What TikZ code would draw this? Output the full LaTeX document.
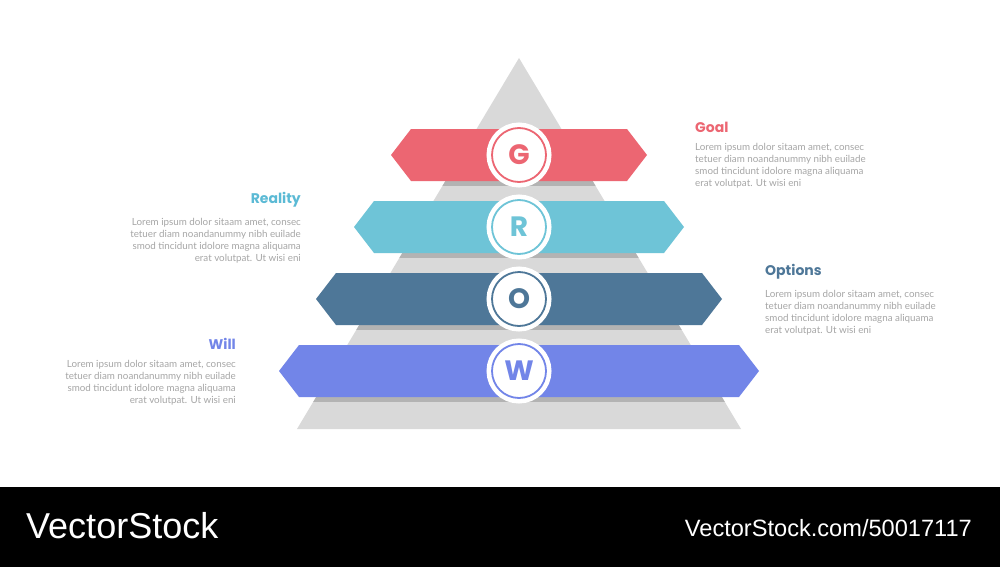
\documentclass[tikz,border=0pt]{standalone}
\usepackage{fontspec}
\setmainfont{Lato}
\newfontfamily\headfont{Poppins}
\newfontfamily\logofont{Liberation Sans}
\usetikzlibrary{positioning}

\definecolor{goalc}{HTML}{EC6672}
\definecolor{realc}{HTML}{6EC4D7}
\definecolor{realt}{HTML}{5BBAD5}
\definecolor{optc}{HTML}{4E7798}
\definecolor{willc}{HTML}{7285E8}
\definecolor{pyrgray}{HTML}{D9D9D9}
\definecolor{pyrdark}{HTML}{B3B3B3}
\definecolor{bodygray}{HTML}{A6A6A6}

\newcommand{\loremtext}{Lorem ipsum dolor sitaam amet, consec\\tetuer diam noandanummy nibh euilade\\smod tincidunt idolore magna aliquama\\erat volutpat. Ut wisi eni}

\begin{document}
\begin{tikzpicture}[x=1pt,y=-1pt,
  ring/.style={circle,fill=white,draw=#1,text=#1,line width=1.8pt,minimum size=54pt,inner sep=0pt,
    preaction={draw=white,line width=11pt},font=\headfont\bfseries\fontsize{28}{28}\selectfont},
  head/.style={inner sep=0pt,font=\headfont\bfseries\fontsize{14}{14}\selectfont},
  body/.style={inner sep=0pt,text=bodygray,font=\fontsize{9.8}{12}\selectfont}]
\useasboundingbox (0,0) rectangle (1000,567);
\fill[white] (0,0) rectangle (1000,567);

% pyramid
\coordinate (apex) at (519,58);
\coordinate (bl) at (297,429);
\coordinate (br) at (741,429);
\fill[pyrgray] (apex) -- (br) -- (bl) -- cycle;
\begin{scope}
\clip (apex) -- (br) -- (bl) -- cycle;
\foreach \y in {181,253,325,397}
  \fill[pyrdark] (200,\y) rectangle (840,\y+5);
\end{scope}

% bands
\foreach \w/\c/\y in {128/goalc/155, 165/realc/227, 203/optc/299, 240/willc/371}
  \fill[\c] (519-\w,\y) -- (539-\w,\y-26) -- (499+\w,\y-26) -- (519+\w,\y)
    -- (499+\w,\y+26) -- (539-\w,\y+26) -- cycle;

% letters
\node[ring=goalc] (G) at (519,155) {G};
\node[ring=realc] (R) at (519,227) {R};
\node[ring=optc] (O) at (519,299) {O};
\node[ring=willc] (W) at (519,371) {W};

% texts
\node[head,text=goalc,anchor=west] (goalhead) at (695,127) {Goal};
\node[body,align=left,below=10.5pt of goalhead.south west,anchor=north west] (goaltext) {\loremtext};

\node[head,text=realt,anchor=east] (realhead) at (301,200) {Reality};
\node[body,align=right,below=10.5pt of realhead.south east,anchor=north east] (realtext) {\loremtext};

\node[head,text=optc,anchor=west] (opthead) at (765,272) {Options};
\node[body,align=left,below=10.5pt of opthead.south west,anchor=north west] (opttext) {\loremtext};

\node[head,text=willc,anchor=east] (willhead) at (236,344) {Will};
\node[body,align=right,below=10.5pt of willhead.south east,anchor=north east] (willtext) {\loremtext};

% footer
\fill[black] (0,487) rectangle (1000,567);
\node[inner sep=0pt,text=white,anchor=west,font=\logofont\fontsize{36}{36}\selectfont] (logo) at (26,526) {VectorStock};
\node[inner sep=0pt,text=white,anchor=east,font=\logofont\fontsize{23.6}{23.6}\selectfont] (logourl) at (972,528) {VectorStock.com/50017117};
\end{tikzpicture}
\end{document}
